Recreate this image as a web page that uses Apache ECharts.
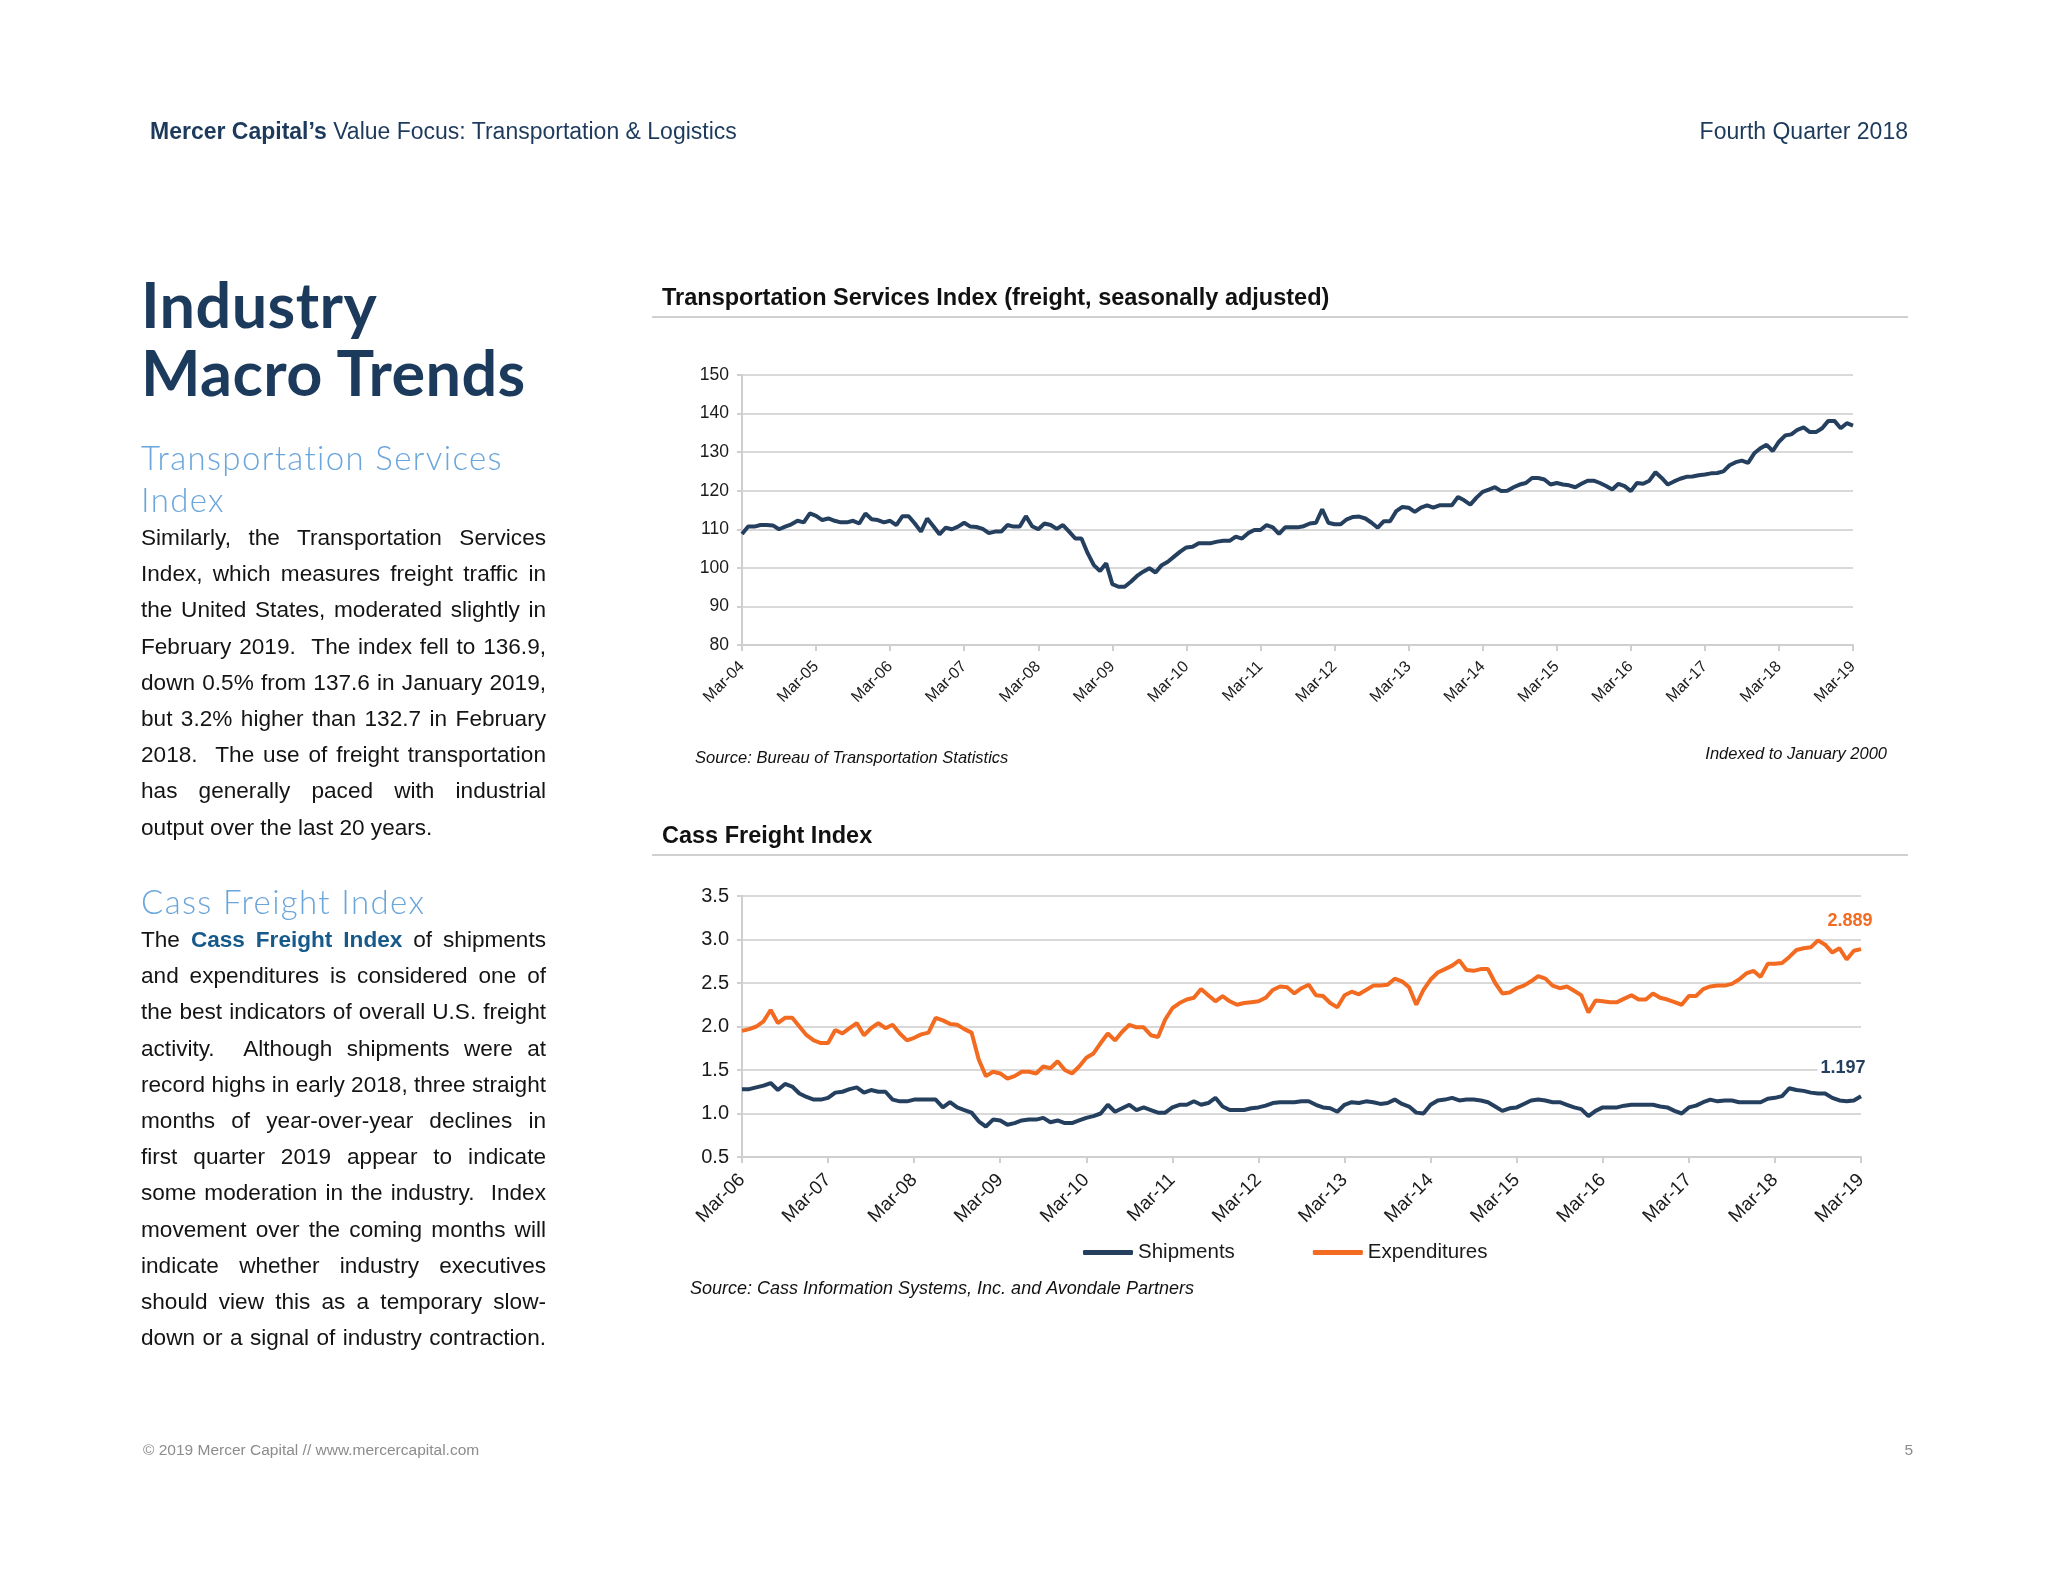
<!DOCTYPE html>
<html>
<head>
<meta charset="utf-8">
<script src="https://cdn.jsdelivr.net/npm/echarts@6/dist/echarts.min.js"></script>
<style>
html,body{margin:0;padding:0;background:#ffffff;}
#page{position:relative;width:2048px;height:1582px;overflow:hidden;font-family:"Liberation Sans",Arial,Helvetica,sans-serif;background:#fff;}
#chart{position:absolute;left:0;top:0;width:2048px;height:1582px;}
.t{position:absolute;white-space:nowrap;}
.hdr{font-size:23px;color:#1d3a5c;line-height:30px;}
.big{font-family:Lato,"Open Sans",sans-serif;font-weight:700;font-size:63px;letter-spacing:0.4px;line-height:68px;color:#1c3a5c;left:141px;}
.sub{font-family:Lato,"Open Sans",sans-serif;font-weight:300;font-size:33px;letter-spacing:1.35px;line-height:42px;color:#6aa5db;left:141px;}
.para{position:absolute;left:141px;width:405px;font-size:22.6px;line-height:36.2px;color:#141414;}
.para div{text-align:justify;text-align-last:justify;white-space:nowrap;}
.para div.last{text-align:left;text-align-last:left;}
.para b{color:#165a8c;}
.foot{font-size:15.5px;color:#8c8c8c;line-height:20px;}
</style>
</head>
<body>
<div id="page">
  <div id="chart"></div>

  <div class="t hdr" style="left:150px;top:116px;"><b>Mercer Capital’s</b> Value Focus: Transportation &amp; Logistics</div>
  <div class="t hdr" style="right:140px;top:116px;">Fourth Quarter 2018</div>

  <div class="t big" style="top:270px;">Industry<br>Macro Trends</div>

  <div class="t sub" style="top:436px;">Transportation Services<br>Index</div>
  <div class="para" style="top:520px;">
    <div>Similarly, the Transportation Services</div>
    <div>Index, which measures freight traffic in</div>
    <div>the United States, moderated slightly in</div>
    <div>February 2019. &nbsp;The index fell to 136.9,</div>
    <div>down 0.5% from 137.6 in January 2019,</div>
    <div>but 3.2% higher than 132.7 in February</div>
    <div>2018. &nbsp;The use of freight transportation</div>
    <div>has generally paced with industrial</div>
    <div class="last">output over the last 20 years.</div>
  </div>

  <div class="t sub" style="top:880px;">Cass Freight Index</div>
  <div class="para" style="top:922px;">
    <div>The <b>Cass Freight Index</b> of shipments</div>
    <div>and expenditures is considered one of</div>
    <div>the best indicators of overall U.S. freight</div>
    <div>activity. &nbsp;Although shipments were at</div>
    <div>record highs in early 2018, three straight</div>
    <div>months of year-over-year declines in</div>
    <div>first quarter 2019 appear to indicate</div>
    <div>some moderation in the industry. &nbsp;Index</div>
    <div>movement over the coming months will</div>
    <div>indicate whether industry executives</div>
    <div>should view this as a temporary slow-</div>
    <div>down or a signal of industry contraction.</div>
  </div>

  <div class="t foot" style="left:143px;top:1440px;">© 2019 Mercer Capital // www.mercercapital.com</div>
  <div class="t foot" style="right:135px;top:1440px;">5</div>
</div>

<script>
// ---------- Data ----------
// Transportation Services Index (freight, SA), monthly Mar-2004 .. Mar-2019
const tsiStart = { year: 2004, month: 2 };   // month index 2 = Mar
const tsiValues = [
  108.8,110.7,110.7,111.1,111.1,111.0,110.0,110.7,111.3,112.2,
  111.8,114.1,113.5,112.4,112.8,112.2,111.8,111.8,112.2,111.5,114.1,112.6,
  112.4,111.8,112.2,111.1,113.4,113.4,111.5,109.4,112.8,110.8,108.7,110.4,
  110.0,110.7,111.7,110.7,110.6,110.1,109.0,109.4,109.4,111.1,110.7,110.7,
  113.4,110.8,110.0,111.5,111.1,110.1,111.1,109.4,107.6,107.6,103.8,100.7,
  99.2,101.2,95.8,95.1,95.1,96.4,97.9,99.0,99.9,98.8,100.7,101.6,
  102.9,104.2,105.3,105.5,106.4,106.4,106.4,106.8,107.0,107.0,108.1,107.6,
  109.0,109.8,109.8,111.1,110.5,108.8,110.5,110.5,110.5,110.8,111.5,111.7,
  115.2,111.7,111.3,111.3,112.6,113.2,113.3,112.8,111.7,110.4,112.1,112.1,
  114.7,115.8,115.6,114.5,115.6,116.2,115.6,116.2,116.2,116.2,118.4,117.5,
  116.4,118.2,119.7,120.3,120.9,119.9,120.0,120.9,121.6,122.0,123.3,123.3,
  122.9,121.6,122.0,121.6,121.4,120.9,121.8,122.6,122.6,122.0,121.2,120.3,
  121.8,121.2,119.9,122.0,121.8,122.6,124.8,123.3,121.6,122.4,123.1,123.6,
  123.7,124.0,124.2,124.5,124.6,125.0,126.6,127.4,127.8,127.2,129.7,131.0,
  131.9,130.3,132.7,134.3,134.6,135.8,136.4,135.2,135.2,136.2,138.1,138.1,
  136.2,137.5,136.9
];
const tsiTicks = [80, 90, 100, 110, 120, 130, 140, 150];

// Cass Freight Index, monthly Mar-2006 .. Mar-2019
const cassStart = { year: 2006, month: 2 };
const shipments = [
  1.28,1.28,1.30,1.32,1.35,1.27,1.34,1.31,1.23,1.19,
  1.16,1.16,1.18,1.24,1.25,1.28,1.30,1.24,1.27,1.25,1.25,1.16,
  1.14,1.14,1.16,1.16,1.16,1.16,1.07,1.13,1.07,1.04,1.01,0.91,
  0.85,0.93,0.92,0.87,0.89,0.92,0.93,0.93,0.95,0.90,0.92,0.89,
  0.89,0.92,0.95,0.97,1.00,1.10,1.02,1.06,1.10,1.04,1.07,1.04,
  1.01,1.01,1.07,1.10,1.10,1.14,1.10,1.12,1.18,1.08,1.04,1.04,
  1.04,1.06,1.07,1.09,1.12,1.13,1.13,1.13,1.14,1.14,1.10,1.07,
  1.06,1.02,1.10,1.13,1.12,1.14,1.13,1.11,1.12,1.16,1.11,1.08,
  1.01,1.00,1.10,1.15,1.16,1.18,1.15,1.16,1.16,1.15,1.13,1.08,
  1.03,1.06,1.07,1.11,1.15,1.16,1.15,1.13,1.13,1.10,1.07,1.05,
  0.97,1.03,1.07,1.07,1.07,1.09,1.10,1.10,1.10,1.10,1.08,1.07,
  1.03,1.00,1.07,1.09,1.13,1.16,1.14,1.15,1.15,1.13,1.13,1.13,
  1.13,1.17,1.18,1.20,1.29,1.27,1.26,1.24,1.23,1.23,1.18,1.15,
  1.14,1.15,1.197
];
const expenditures = [
  1.95,1.97,2.00,2.06,2.19,2.04,2.10,2.10,2.00,1.90,
  1.84,1.81,1.81,1.96,1.92,1.98,2.04,1.90,1.98,2.04,1.98,2.02,
  1.92,1.84,1.87,1.91,1.93,2.10,2.07,2.03,2.02,1.97,1.93,1.62,
  1.43,1.48,1.46,1.40,1.43,1.48,1.48,1.46,1.54,1.52,1.60,1.50,
  1.46,1.54,1.64,1.69,1.81,1.92,1.84,1.94,2.02,1.99,1.99,1.90,
  1.88,2.08,2.21,2.27,2.31,2.33,2.43,2.36,2.29,2.35,2.29,2.25,
  2.27,2.28,2.29,2.33,2.42,2.46,2.45,2.38,2.44,2.48,2.36,2.35,
  2.27,2.22,2.36,2.40,2.37,2.42,2.47,2.47,2.48,2.55,2.52,2.45,
  2.25,2.42,2.54,2.62,2.66,2.70,2.76,2.65,2.64,2.66,2.66,2.50,
  2.38,2.39,2.44,2.47,2.52,2.58,2.55,2.47,2.44,2.46,2.41,2.36,
  2.16,2.30,2.29,2.28,2.28,2.32,2.36,2.31,2.31,2.38,2.33,2.31,
  2.28,2.25,2.35,2.35,2.43,2.46,2.47,2.47,2.49,2.54,2.61,2.64,
  2.57,2.72,2.72,2.73,2.80,2.88,2.90,2.91,2.99,2.94,2.85,2.90,
  2.77,2.87,2.889
];
const cassTicks = [0.5, 1.0, 1.5, 2.0, 2.5, 3.0, 3.5];

// ---------- helpers ----------
const MONTHS = ['Jan','Feb','Mar','Apr','May','Jun','Jul','Aug','Sep','Oct','Nov','Dec'];
function monthLabels(start, count) {
  const out = [];
  for (let i = 0; i < count; i++) {
    const m = start.month + i;
    const y = start.year + Math.floor(m / 12);
    out.push(MONTHS[m % 12] + '-' + String(y % 100).padStart(2, '0'));
  }
  return out;
}
const tsiCats = monthLabels(tsiStart, tsiValues.length);
const cassCats = monthLabels(cassStart, shipments.length);

const NAVY = '#253f5f';
const ORANGE = '#f26b21';
const GRID = '#d9d9d9';
const AXIS = '#cfcfcf';
const FONT = '"Liberation Sans", Arial, Helvetica, sans-serif';

function endMark(cats, arr, color, dx) {
  const i = arr.length - 1;
  return {
    symbol: 'circle', symbolSize: 0, silent: true,
    data: [{ coord: [cats[i], arr[i]], value: arr[i] }],
    label: {
      show: true, position: 'top', distance: 18, offset: [dx, 0],
      formatter: (p) => Number(p.value).toFixed(3),
      color: color, fontWeight: 'bold', fontSize: 18, fontFamily: FONT,
      backgroundColor: '#ffffff', padding: [1, 3]
    }
  };
}

function xAxisCfg(cats, gridIndex, fs, margin) {
  return {
    type: 'category', gridIndex: gridIndex, data: cats, boundaryGap: false,
    axisLine: { show: true, lineStyle: { color: AXIS, width: 2 } },
    axisTick: { show: true, interval: 11, length: 6, lineStyle: { color: AXIS, width: 2 } },
    axisLabel: { interval: 11, rotate: 45, margin: margin, fontSize: fs, color: '#1a1a1a', fontFamily: FONT },
    splitLine: { show: false }
  };
}
function yAxisCfg(ticks, gridIndex, dec, fs) {
  return {
    type: 'value', gridIndex: gridIndex,
    min: ticks[0], max: ticks[ticks.length - 1], interval: ticks[1] - ticks[0],
    axisLine: { show: true, lineStyle: { color: AXIS, width: 2 } },
    axisTick: { show: true, length: 5, lineStyle: { color: AXIS, width: 2 } },
    axisLabel: { fontSize: fs, color: '#1a1a1a', fontFamily: FONT, margin: 13,
      formatter: (v) => v.toFixed(dec) },
    splitLine: { show: true, lineStyle: { color: GRID, width: 2 } }
  };
}

const chart = echarts.init(document.getElementById('chart'), null, { renderer: 'canvas' });
chart.setOption({
  animation: false,
  backgroundColor: 'transparent',
  textStyle: { fontFamily: FONT },
  title: [
    { text: 'Transportation Services Index (freight, seasonally adjusted)', left: 662, top: 287, padding: 0,
      textStyle: { fontSize: 23.5, fontWeight: 'bold', color: '#111', fontFamily: FONT } },
    { text: 'Source: Bureau of Transportation Statistics', left: 695, top: 750, padding: 0,
      textStyle: { fontSize: 16.5, fontWeight: 'normal', fontStyle: 'italic', color: '#111', fontFamily: FONT } },
    { text: 'Indexed to January 2000', right: 161, top: 746, padding: 0,
      textStyle: { fontSize: 16.5, fontWeight: 'normal', fontStyle: 'italic', color: '#111', fontFamily: FONT } },
    { text: 'Cass Freight Index', left: 662, top: 825, padding: 0,
      textStyle: { fontSize: 23.5, fontWeight: 'bold', color: '#111', fontFamily: FONT } },
    { text: 'Source: Cass Information Systems, Inc. and Avondale Partners', left: 690, top: 1280, padding: 0,
      textStyle: { fontSize: 18, fontWeight: 'normal', fontStyle: 'italic', color: '#111', fontFamily: FONT } }
  ],
  graphic: [
    { type: 'line', shape: { x1: 652, y1: 317, x2: 1908, y2: 317 }, style: { stroke: '#d0d0d0', lineWidth: 2 } },
    { type: 'line', shape: { x1: 652, y1: 855, x2: 1908, y2: 855 }, style: { stroke: '#d0d0d0', lineWidth: 2 } }
  ],
  legend: {
    left: 1078, top: 1237, itemWidth: 50, itemHeight: 5, itemGap: 78, icon: 'roundRect',
    textStyle: { fontSize: 20.5, color: '#1a1a1a', fontFamily: FONT },
    data: ['Shipments', 'Expenditures']
  },
  grid: [
    { left: 742, right: 195, top: 375, height: 270, containLabel: false },
    { left: 742, right: 187, top: 896, height: 261, containLabel: false }
  ],
  xAxis: [xAxisCfg(tsiCats, 0, 16, 19), xAxisCfg(cassCats, 1, 19, 20)],
  yAxis: [yAxisCfg(tsiTicks, 0, 0, 17.5), yAxisCfg(cassTicks, 1, 1, 20)],
  series: [
    { name: 'TSI', type: 'line', xAxisIndex: 0, yAxisIndex: 0, data: tsiValues,
      showSymbol: false, lineStyle: { color: NAVY, width: 4 }, itemStyle: { color: NAVY } },
    { name: 'Shipments', type: 'line', xAxisIndex: 1, yAxisIndex: 1, data: shipments,
      showSymbol: false, lineStyle: { color: NAVY, width: 4 }, itemStyle: { color: NAVY },
      markPoint: endMark(cassCats, shipments, NAVY, -18) },
    { name: 'Expenditures', type: 'line', xAxisIndex: 1, yAxisIndex: 1, data: expenditures,
      showSymbol: false, lineStyle: { color: ORANGE, width: 4 }, itemStyle: { color: ORANGE },
      markPoint: endMark(cassCats, expenditures, ORANGE, -11) }
  ]
});
</script>
</body>
</html>
